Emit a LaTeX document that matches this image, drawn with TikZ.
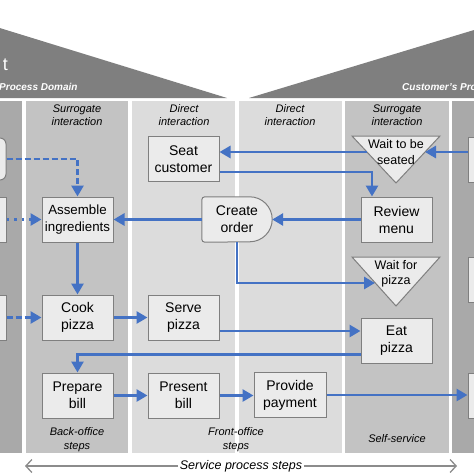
\documentclass[tikz,border=0pt]{standalone}
\usepackage{fontspec}
\setmainfont{Liberation Sans}
\usetikzlibrary{arrows.meta}
\definecolor{banner}{HTML}{7F7F7F}
\definecolor{laneA}{HTML}{A9A9A9}
\definecolor{laneB}{HTML}{C3C3C3}
\definecolor{laneC}{HTML}{DCDCDC}
\definecolor{boxfill}{HTML}{EBEBEB}
\definecolor{boxedge}{HTML}{7F7F7F}
\definecolor{flowblue}{HTML}{4472C4}
\definecolor{axisgray}{HTML}{8C8C8C}
\begin{document}
\begin{tikzpicture}[x=1pt,y=-1pt,
  box/.style={draw=boxedge, fill=boxfill, line width=1pt, minimum width=71pt, minimum height=45pt, align=center, inner sep=1pt, font=\fontsize{14}{17}\selectfont},
  plain/.style={align=center, inner sep=1pt, minimum width=70pt, minimum height=45pt, font=\fontsize{14}{17}\selectfont},
  tritext/.style={align=center, inner sep=0pt, font=\fontsize{12.5}{15.5}\selectfont},
  trishape/.style={draw=boxedge, fill=boxfill, line width=1pt},
  lanehead/.style={align=center, inner sep=0pt, font=\fontsize{11}{13.5}\selectfont\itshape},
  bannertext/.style={text=white, inner sep=0pt, font=\fontsize{10}{12}\selectfont\bfseries\itshape},
  flow/.style={draw=flowblue, line width=2.8pt, -{Triangle[length=11pt,width=12pt]}},
  dashflow/.style={flow, dash pattern=on 6pt off 3pt},
  dotflow/.style={flow, dash pattern=on 2.5pt off 5pt},
  axis/.style={draw=axisgray, line width=1.3pt, -{Straight Barb[length=6pt,width=13pt]}}
]
\useasboundingbox (0,0) rectangle (474,474);
\clip (0,0) rectangle (474,474);

% banners
\fill[banner] (-10,25) -- (227,98) -- (-10,98) -- cycle;
\fill[banner] (249,98) -- (484,27) -- (484,98) -- cycle;
\node[text=white, inner sep=0pt, anchor=base east, font=\fontsize{18}{20}\selectfont] (ttl) at (8,70) {t};
\node[bannertext, anchor=west] (pdl) at (-1,87) {Process Domain};
\node[bannertext, anchor=west] (pdr) at (402,87) {Customer's Process Domain};

% lanes
\fill[laneA] (-10,101) rectangle (22,453);
\fill[laneB] (26,101) rectangle (128,453);
\fill[laneC] (132,101) rectangle (235,453);
\fill[laneC] (239,101) rectangle (342,453);
\fill[laneB] (345,101) rectangle (449,453);
\fill[laneA] (452,101) rectangle (484,453);

% lane headers
\node[lanehead] (h2) at (77,115) {Surrogate\\interaction};
\node[lanehead] (h3) at (184,115) {Direct\\interaction};
\node[lanehead] (h4) at (290,115) {Direct\\interaction};
\node[lanehead] (h5) at (397,115) {Surrogate\\interaction};

% bottom labels
\node[lanehead] (f2) at (77,439.5) {Back-office\\steps};
\node[lanehead] (f3) at (236,439.5) {Front-office\\steps};
\node[lanehead] (f5) at (397,439) {Self-service};

% off-picture boxes
\node[box, minimum width=64pt, minimum height=42pt, rounded corners=6pt] (l1) at (-26,159) {};
\node[box, minimum width=64pt] (l2) at (-26,219.5) {};
\node[box, minimum width=64pt] (l3) at (-26,317.5) {};
\node[box, minimum width=64pt] (r1) at (500,159.5) {};
\node[box, minimum width=64pt] (r2) at (500,279.5) {};
\node[box, minimum width=64pt] (r3) at (500,395.5) {};

% main boxes
\node[box] (seat) at (183.5,159) {Seat\\customer};
\node[box, font=\fontsize{13.3}{16.5}\selectfont] (assemble) at (77.5,219.5) {Assemble\\ingredients};
\node[box] (cook) at (77.5,317.5) {Cook\\pizza};
\node[box] (serve) at (183.5,318) {Serve\\pizza};
\node[box] (prepare) at (77.5,395.5) {Prepare\\bill};
\node[box] (present) at (183.5,395.5) {Present\\bill};
\node[box, minimum width=72pt] (provide) at (290,395) {Provide\\payment};
\node[box] (eat) at (396.5,340.5) {Eat\\pizza};
\node[box] (review) at (396.5,219.5) {Review\\menu};

% create order (delay shape)
\node[plain] (create) at (237,219.5) {};
\draw[draw=boxedge, fill=boxfill, line width=1pt]
  ([xshift=3pt]create.north west) -- ([xshift=-22.5pt]create.north east)
  arc (90:-90:22.5pt) -- ([xshift=3pt]create.south west)
  arc (270:180:3pt) -- ([yshift=-3pt]create.north west) arc (180:90:3pt) -- cycle;
\node[plain] (createtxt) at (237,219.5) {Create\\order};

% wait triangles
\coordinate (wsL) at (352,136);
\coordinate (wsR) at (440,136);
\coordinate (wsA) at (396,183);
\draw[trishape] (wsL) -- (wsR) -- (wsA) -- cycle;
\node[tritext] (waitseat) at (396,152) {Wait to be\\seated};
\coordinate (wsE) at (425,152);
\coordinate (wsW) at (367,152);

\coordinate (wpL) at (352,257);
\coordinate (wpR) at (440,257);
\coordinate (wpA) at (396,306);
\draw[trishape] (wpL) -- (wpR) -- (wpA) -- cycle;
\node[tritext] (waitpizza) at (396,274) {Wait for\\pizza};
\coordinate (wpW) at (375,283);

% connectors
\draw[flow] (r1.west |- wsE) -- (wsE);
\draw[flow] (wsW) -- (wsW -| seat.east);
\draw[flow] ([yshift=-13pt]seat.east) -| ([xshift=-24.5pt]review.north);
\draw[flow] (review.west) -- (create.east);
\draw[flow] (create.west) -- (assemble.east);
\draw[flow] (create.south) |- (wpW);
\draw[flow] (assemble.south) -- (cook.north);
\draw[flow] (cook.east) -- (cook.east -| serve.west);
\draw[flow] ([yshift=-13pt]serve.east) -- ([yshift=-13pt]serve.east -| eat.west);
\draw[flow] ([yshift=-14pt]eat.west) -| (prepare.north);
\draw[flow] (prepare.east) -- (present.west);
\draw[flow] (present.east) -- (present.east -| provide.west);
\draw[flow] (provide.east) -- (provide.east -| r3.west);
\draw[dashflow] (l1.east) -| (assemble.north);
\draw[dotflow] (l2.east) -- (assemble.west);
\draw[dashflow] (l3.east) -- (cook.west);

% service process steps axis
\node[inner sep=1.5pt, font=\fontsize{12.5}{15}\selectfont\itshape] (sps) at (241,466) {Service process steps};
\coordinate (spL) at (25,466);
\coordinate (spR) at (457,466);
\draw[axis] (sps.west) -- (spL);
\draw[axis] (sps.east) -- (spR);
\end{tikzpicture}
\end{document}
